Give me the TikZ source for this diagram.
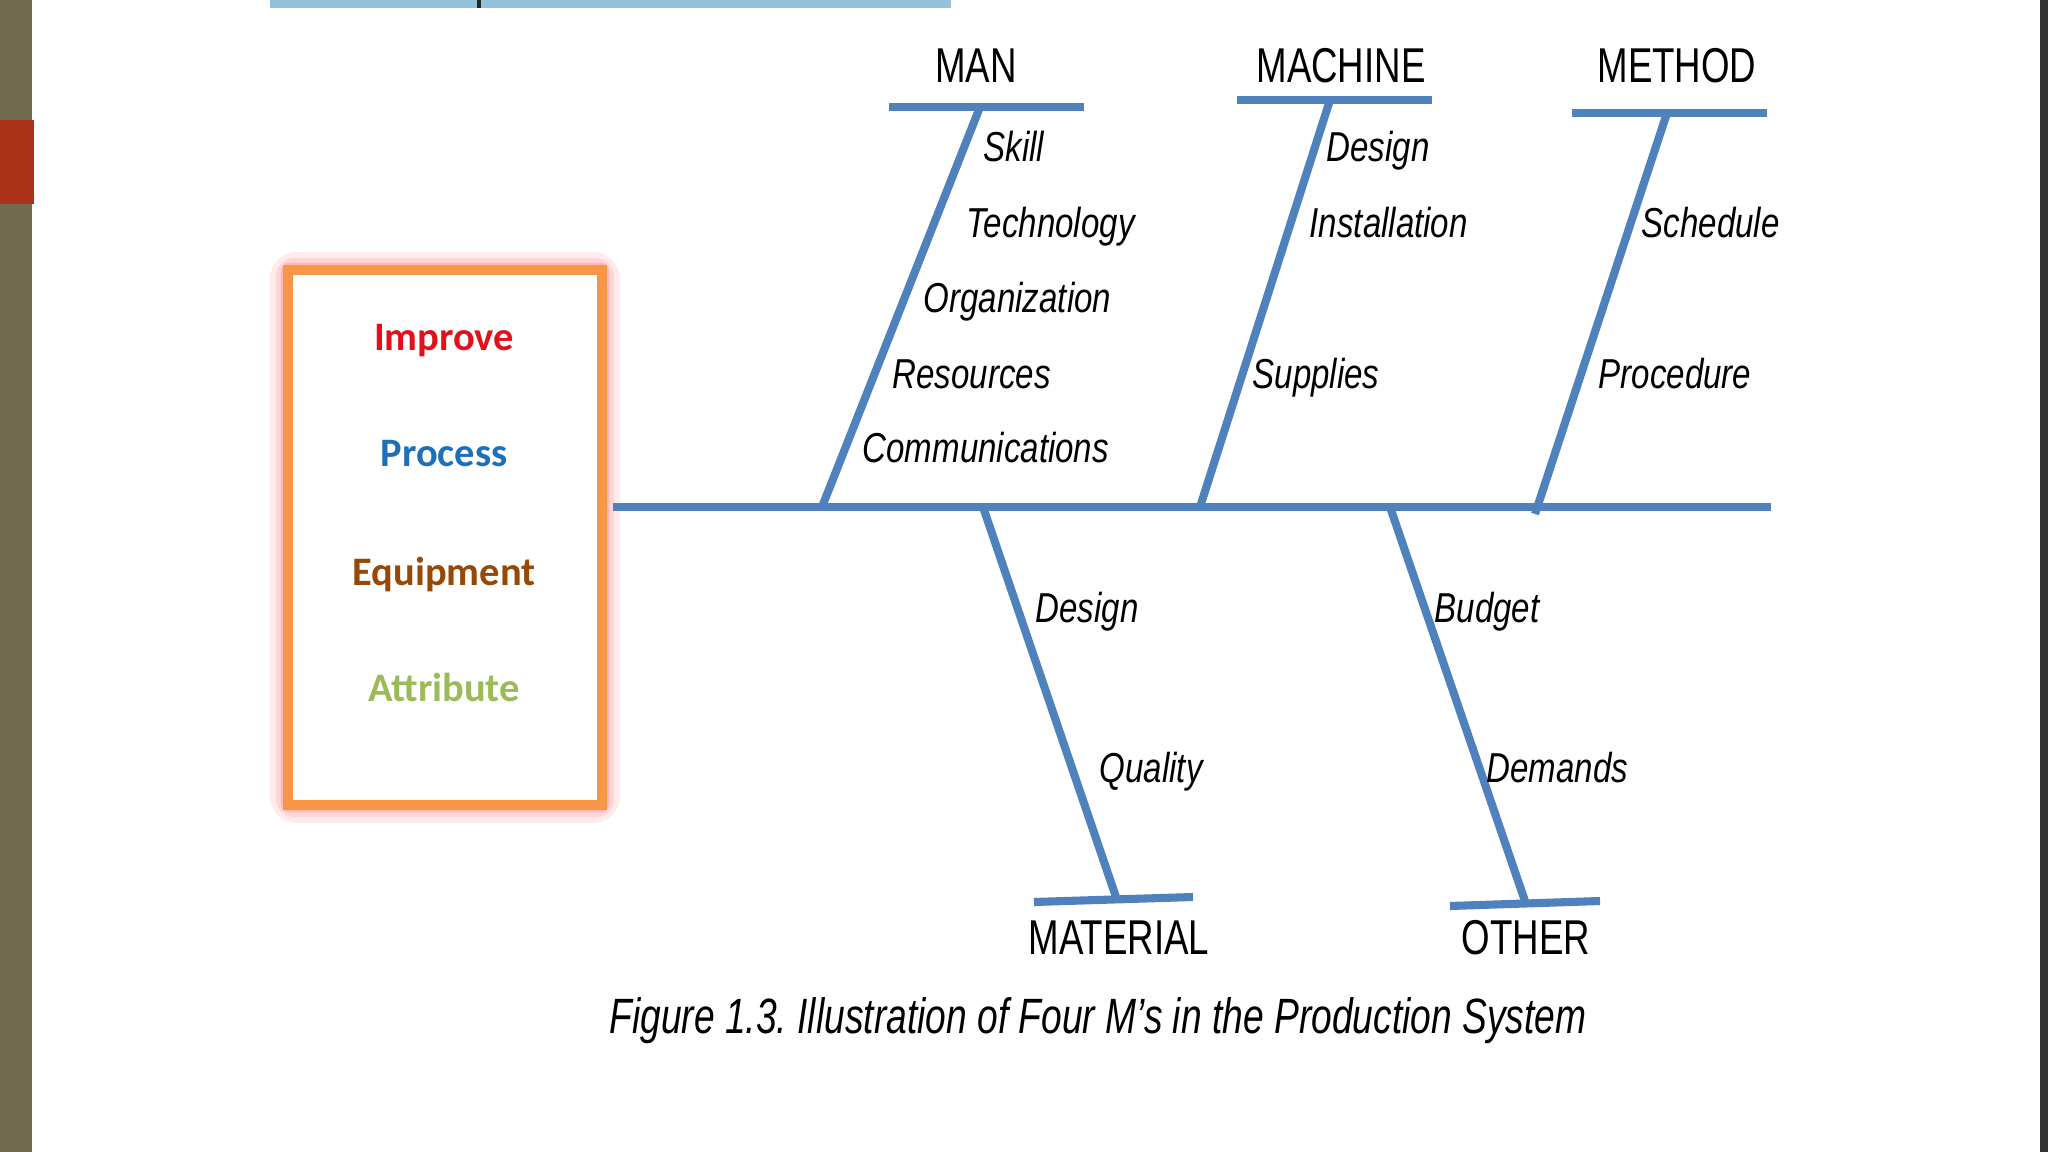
\documentclass[tikz,border=0pt]{standalone}
\usepackage{fontspec}
\setmainfont{Liberation Sans}
\newfontfamily\headfont[FakeStretch=0.75]{Liberation Sans}
\newfontfamily\causefont[FakeStretch=0.79]{Liberation Sans}
\newfontfamily\boxfont{Carlito}

\definecolor{bone}{HTML}{4F81BD}
\definecolor{olivebar}{HTML}{736B50}
\definecolor{redtab}{HTML}{A93218}
\definecolor{titlebar}{HTML}{93C3DA}
\definecolor{frameorange}{HTML}{F79646}
\definecolor{improvered}{HTML}{E3101A}
\definecolor{processblue}{HTML}{1F6FB8}
\definecolor{equipbrown}{HTML}{974806}
\definecolor{attrgreen}{HTML}{9BBB59}

\tikzset{
  bone/.style={draw=bone, line width=2.3pt},
  head/.style={font=\headfont\fontsize{13.9}{16}\selectfont, anchor=base, inner sep=0pt},
  cause/.style={font=\causefont\itshape\fontsize{11.9}{14}\selectfont, anchor=base west, inner sep=0pt},
  goal/.style={font=\boxfont\bfseries\fontsize{11.5}{13}\selectfont, anchor=base, inner sep=0pt},
}

\begin{document}
\begin{tikzpicture}[x=0.01cm, y=-0.01cm]
  \useasboundingbox (0,0) rectangle (2048,1152);
  \fill[white] (0,0) rectangle (2048,1152);

  % slide edges
  \fill[olivebar] (0,0) rectangle (32,1152);
  \fill[redtab] (0,120) rectangle (34,204);
  \fill[black!80] (2040,0) rectangle (2048,1152);
  \fill[titlebar] (270,0) rectangle (951,8);
  \fill[black!85] (477,0) rectangle (481,8);

  % goal box, soft glow outside the frame
  \draw[red!8, line width=3.4pt, rounded corners=6pt] (276,258) rectangle (614,817);
  \draw[red!16, line width=2.3pt, rounded corners=4pt] (280,262) rectangle (610,813);
  \draw[red!28, line width=1.4pt, rounded corners=2pt] (283,265) rectangle (607,810);
  \draw[frameorange, line width=2.8pt] (288,270) rectangle (602,805);
  \node[goal, text=improvered] (improve) at (444,351) {Improve};
  \node[goal, text=processblue] (process) at (444,467) {Process};
  \node[goal, text=equipbrown] (equip) at (444,585) {Equipment};
  \node[goal, text=attrgreen] (attr) at (444,701) {Attribute};

  % spine
  \coordinate (tail) at (613,507);
  \coordinate (head) at (1771,507);
  \draw[bone] (tail) -- (head);

  % upper bones
  \coordinate (manL) at (889,107);   \coordinate (manR) at (1084,107);
  \coordinate (manT) at (980,107);   \coordinate (manB) at (822,507);
  \coordinate (machL) at (1237,100); \coordinate (machR) at (1432,100);
  \coordinate (machT) at (1330,100); \coordinate (machB) at (1200,507);
  \coordinate (methL) at (1572,113); \coordinate (methR) at (1767,113);
  \coordinate (methT) at (1667,113); \coordinate (methB) at (1535,514);
  \draw[bone] (manL) -- (manR);   \draw[bone] (manT) -- (manB);
  \draw[bone] (machL) -- (machR); \draw[bone] (machT) -- (machB);
  \draw[bone] (methL) -- (methR); \draw[bone] (methT) -- (methB);

  % lower bones
  \coordinate (matT) at (983,507);   \coordinate (matB) at (1117,900);
  \coordinate (matL) at (1034,902);  \coordinate (matR) at (1193,897);
  \coordinate (othT) at (1390,507);  \coordinate (othB) at (1526,904);
  \coordinate (othL) at (1450,906);  \coordinate (othR) at (1600,901);
  \draw[bone] (matT) -- (matB); \draw[bone] (matL) -- (matR);
  \draw[bone] (othT) -- (othB); \draw[bone] (othL) -- (othR);

  % category names
  \node[head] (man) at (976,83) {MAN};
  \node[head] (machine) at (1341,83) {MACHINE};
  \node[head] (method) at (1677,83) {METHOD};
  \node[head] (material) at (1119,954) {MATERIAL};
  \node[head] (other) at (1526,954) {OTHER};

  % causes
  \node[cause] (skill) at (983,162) {Skill};
  \node[cause] (tech) at (966,238) {Technology};
  \node[cause] (org) at (923,313) {Organization};
  \node[cause] (res) at (892,389) {Resources};
  \node[cause] (comm) at (862,463) {Communications};
  \node[cause] (mdesign) at (1326,162) {Design};
  \node[cause] (install) at (1309,238) {Installation};
  \node[cause] (supply) at (1252,389) {Supplies};
  \node[cause] (sched) at (1641,238) {Schedule};
  \node[cause] (proc) at (1598,389) {Procedure};
  \node[cause] (tdesign) at (1035,623) {Design};
  \node[cause] (quality) at (1099,782) {Quality};
  \node[cause] (budget) at (1434,623) {Budget};
  \node[cause] (demand) at (1486,782) {Demands};

  \node[head, font=\headfont\itshape\fontsize{14.1}{16}\selectfont] (caption) at (1098,1033)
    {\frenchspacing Figure 1.3. Illustration of Four M’s in the Production System};
\end{tikzpicture}
\end{document}
